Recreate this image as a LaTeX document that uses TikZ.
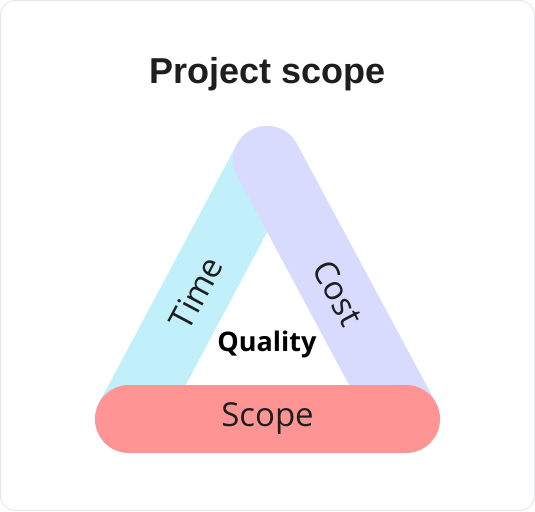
\documentclass[tikz,border=0pt]{standalone}
\usepackage{fontspec}
\setmainfont{Open Sans}
\newfontfamily\titlefont{Liberation Sans}
\definecolor{framegray}{HTML}{E5E7EB}
\definecolor{timecol}{HTML}{C1F0FB}
\definecolor{costcol}{HTML}{D9DBFE}
\definecolor{scopecol}{HTML}{FF9494}
\definecolor{inktext}{HTML}{1E1E1E}
\tikzset{
  bar/.style={line width=68pt, line cap=round},
  barlabel/.style={font=\fontsize{33}{36}\selectfont, text=inktext, inner sep=0pt},
}
\begin{document}
\begin{tikzpicture}[x=1pt,y=-1pt]
\useasboundingbox (0,0) rectangle (535,511);
\draw[framegray, line width=1pt, fill=white, rounded corners=15pt] (0.5,0.5) rectangle (534.5,510.5);
\node[font=\titlefont\bfseries\fontsize{36}{40}\selectfont, text=inktext, anchor=base, inner sep=0pt] (title) at (267.5,83) {Project scope};
\coordinate (T) at (267,160);
\coordinate (L) at (129,419);
\coordinate (R) at (406,419);
\draw[bar, timecol] (L) -- (T);
\draw[bar, costcol] (T) -- (R);
\draw[bar, scopecol] (L) -- (R);
\node[barlabel, rotate=62] (time) at (196,293) {Time};
\node[barlabel, rotate=-62] (cost) at (338,293) {Cost};
\node[barlabel] (scope) at (267.5,419) {Scope};
\node[font=\bfseries\fontsize{27}{30}\selectfont, text=black, inner sep=0pt] (quality) at (267,344) {Quality};
\end{tikzpicture}
\end{document}
